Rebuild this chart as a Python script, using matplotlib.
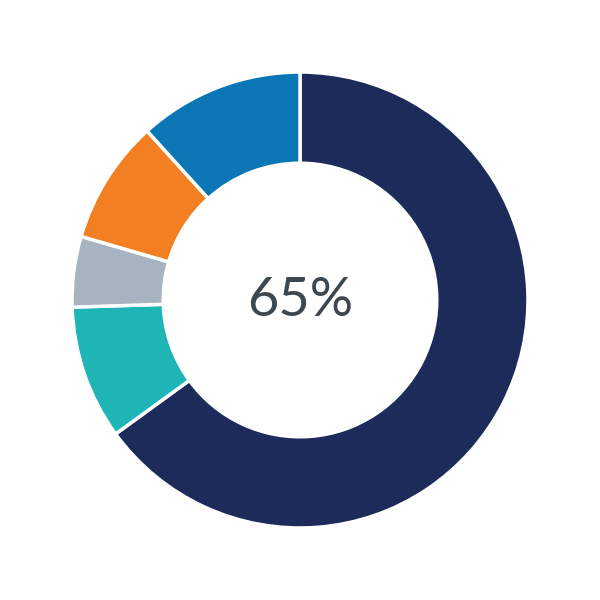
import matplotlib.pyplot as plt

labels = ['Navy', 'Teal', 'Gray', 'Orange', 'Blue']
values = [65, 9.5, 5, 8.8, 11.7]
colors = ['#1c2b5a', '#1fb5b6', '#a8b3c1', '#f27f22', '#0a76b6']
center_text = '65%'

fig = plt.figure(figsize=(6, 6), dpi=100)
ax = fig.add_axes([0, 0, 1, 1])
ax.pie(values, colors=colors, startangle=90, counterclock=False,
       radius=1.0,
       wedgeprops=dict(width=0.4, edgecolor='white', linewidth=2.5))
ax.text(0, 0, center_text, ha='center', va='center', fontsize=39,
        color='#3d4750', family=['Lato', 'DejaVu Sans'])
ax.set_xlim(-1.316, 1.316)
ax.set_ylim(-1.316, 1.316)
ax.set_aspect('equal')
ax.axis('off')
fig.savefig('out.png', dpi=100, facecolor='white')
